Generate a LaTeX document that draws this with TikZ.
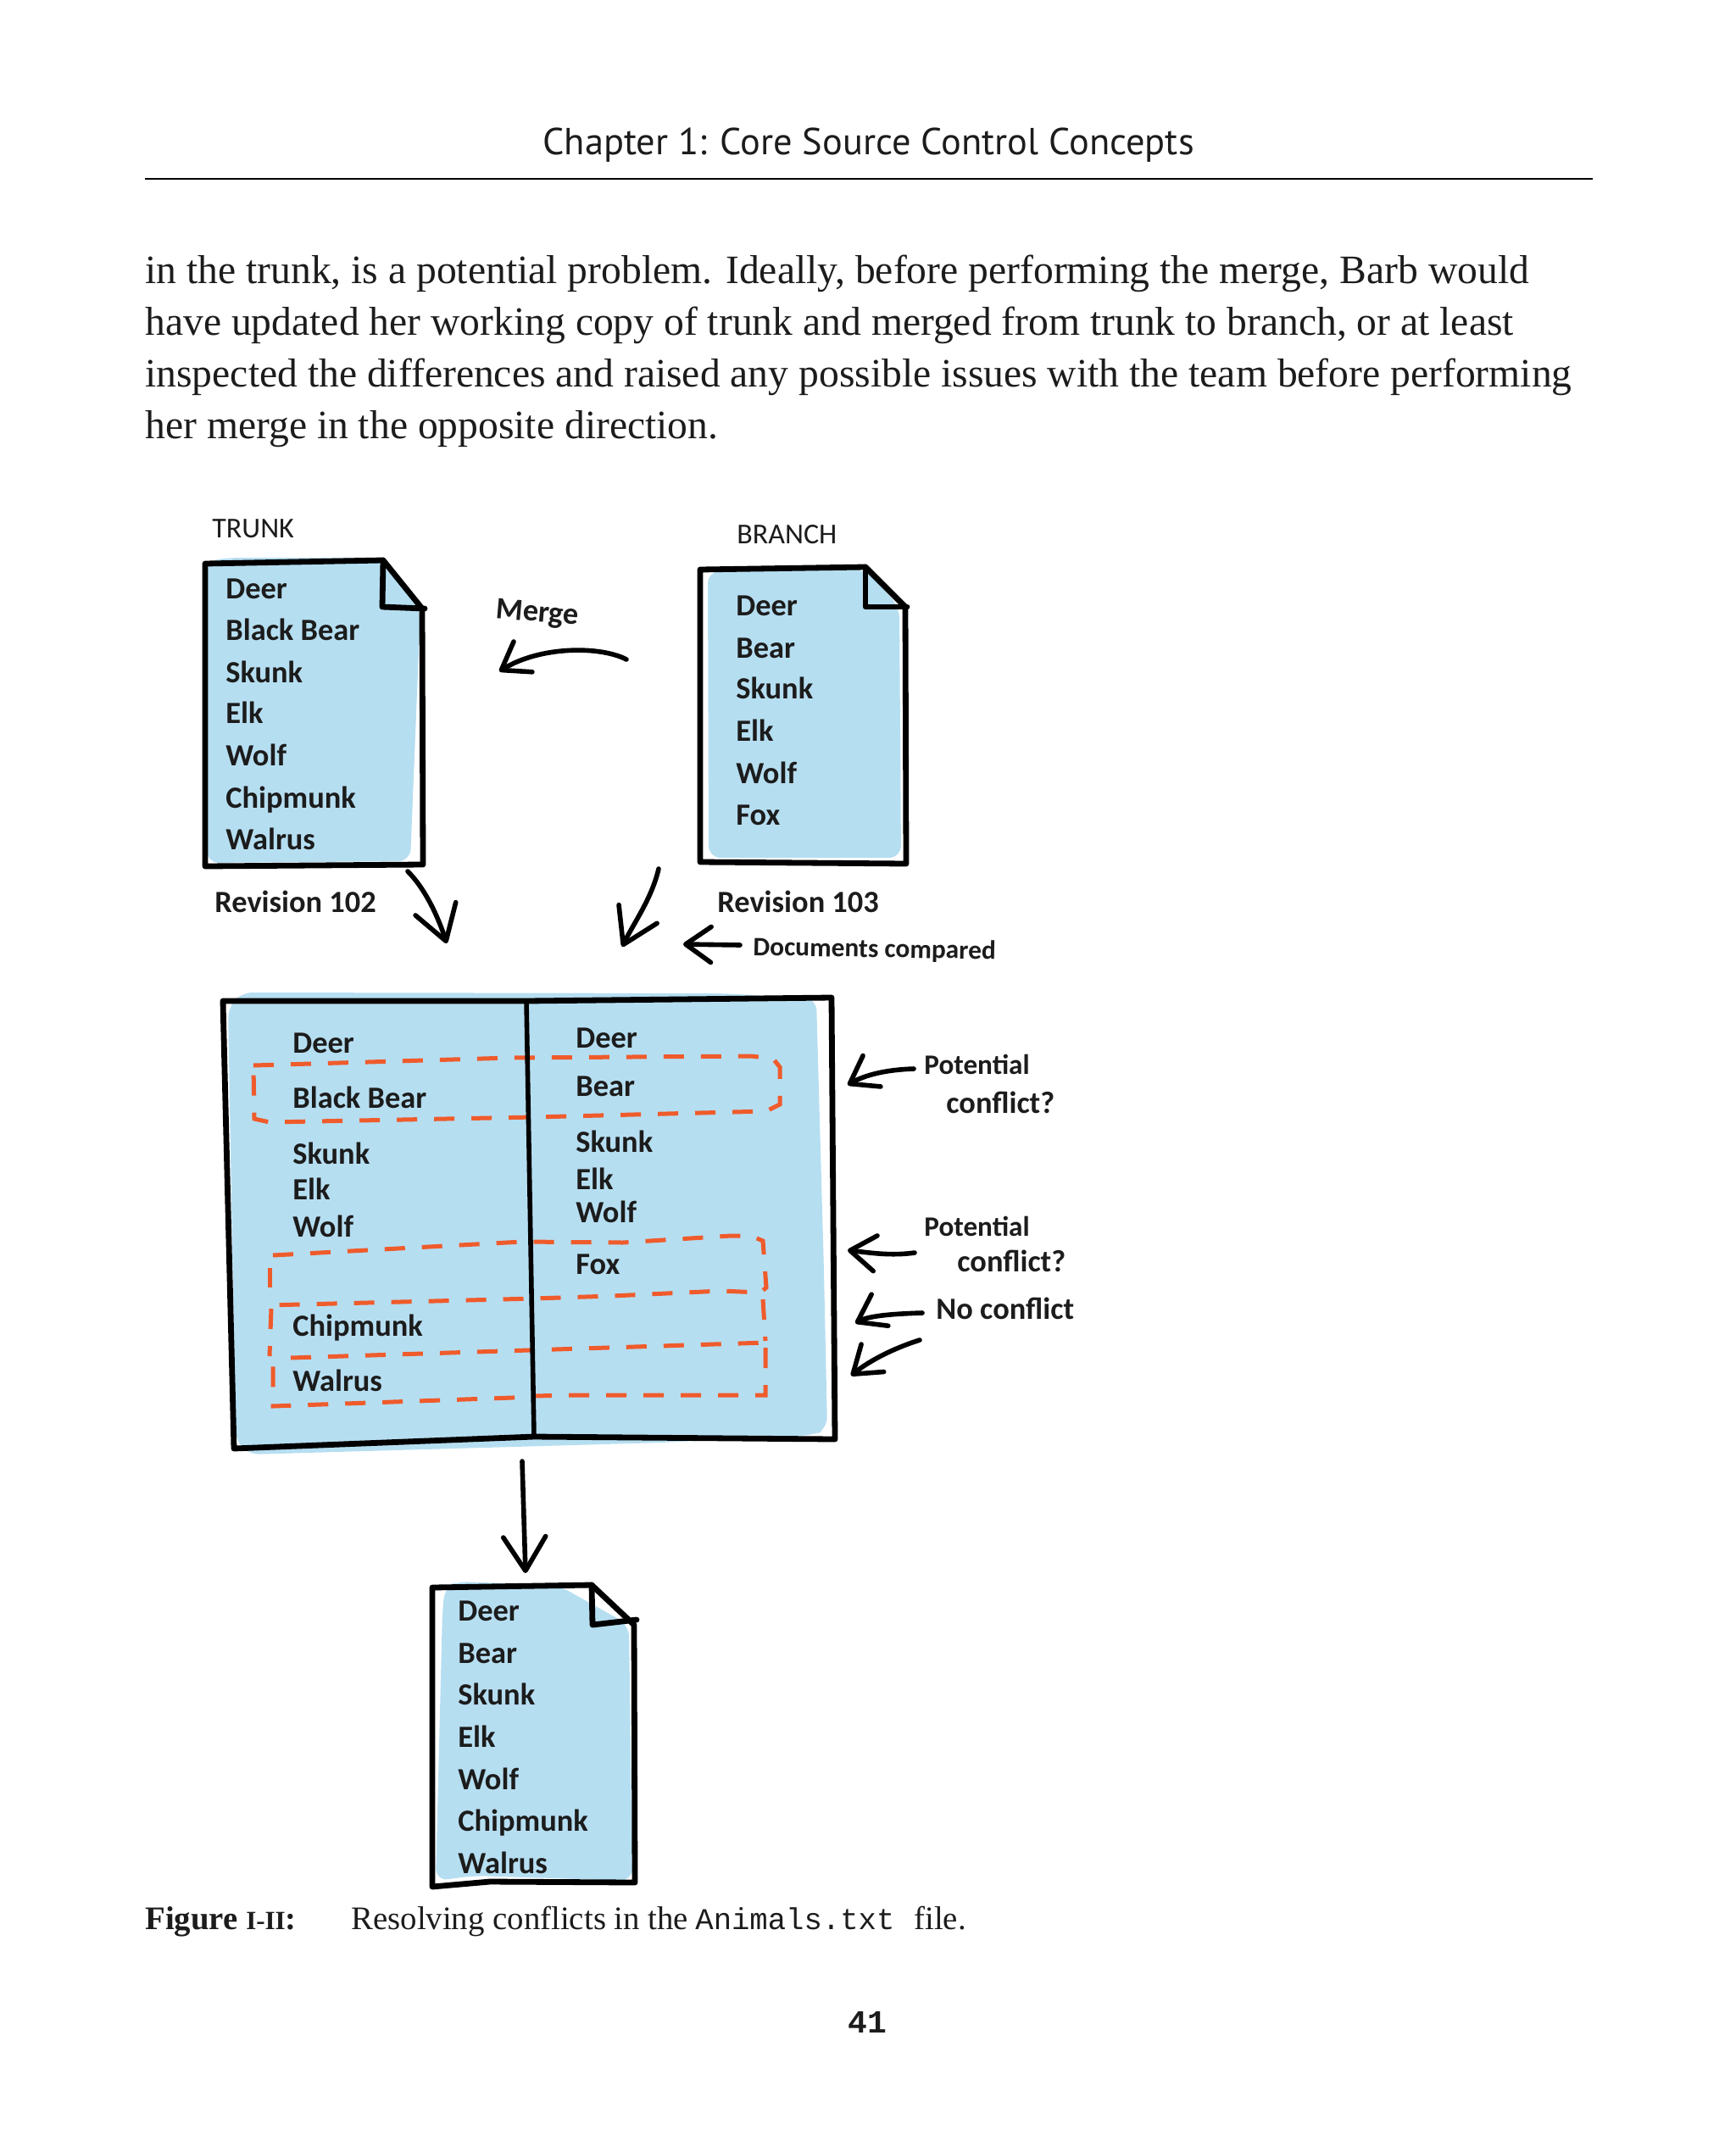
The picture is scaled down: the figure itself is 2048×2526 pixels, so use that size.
\documentclass[tikz,border=0pt]{standalone}
\usepackage{fontspec}
\setmainfont{Liberation Serif}
\setmonofont{Liberation Mono}
\newfontfamily\headfont{PT Sans}
\newfontfamily\handfont{Carlito}
\usetikzlibrary{arrows.meta}

\definecolor{sheetblue}{HTML}{B6DEF1}
\definecolor{markorange}{HTML}{EF5B2B}
\definecolor{inkblack}{HTML}{1C1C1C}

\begin{document}
\begin{tikzpicture}[x=.5pt,y=-.5pt,
    >={Straight Barb[length=15pt,width=21pt,round]},
    every node/.style = {inner sep=0pt,anchor=base west,text=inkblack},
    body/.style    = {font=\fontsize{23.8}{26}\selectfont},
    caption/.style = {font=\fontsize{19.4}{22}\selectfont},
    hand/.style    = {font=\handfont\bfseries\fontsize{18.2}{22}\selectfont},
    note/.style    = {font=\handfont\bfseries\fontsize{16.6}{20}\selectfont},
    notewide/.style = {font=\handfont\bfseries\fontsize{18.2}{20}\selectfont},
    tag/.style     = {font=\handfont\fontsize{17}{20}\selectfont},
    sheet/.style   = {fill=sheetblue,rounded corners=7pt},
    outline/.style = {draw=black,line width=3.4pt,line join=round,line cap=round},
    divider/.style = {draw=black,line width=2.8pt,line cap=round},
    arrow/.style   = {draw=black,line width=2.8pt,line cap=round,->},
    bighead/.style = {>={Straight Barb[length=20pt,width=25pt,round]}},
    conflict/.style = {draw=markorange,line width=2.5pt,
      dash pattern=on 12pt off 10pt},
  ]
  \useasboundingbox (0,0) rectangle (2048,2526);

  \node[font=\headfont\fontsize{22.2}{26}\selectfont] (header) at (640,182)
    {Chapter 1: Core Source Control Concepts};
  \draw[line width=1pt,black] (171,210.5) -- (1879,210.5);

  \node[body] (line1) at (171,334)
    {in the trunk, is a potential problem. Ideally, before performing the merge, Barb would};
  \node[body] (line2) at (171,395)
    {have updated her working copy of trunk and merged from trunk to branch, or at least};
  \node[body] (line3) at (171,456)
    {inspected the differences and raised any possible issues with the team before performing};
  \node[body] (line4) at (171,517)
    {her merge in the opposite direction.};

  % trunk sheet
  \fill[sheet] (244,662) -- (270,658) -- (444,658) -- (496,718) -- (484,1016) -- (244,1018) -- cycle;
  \draw[outline] (242,665) -- (452,661) -- (498,718) -- (499,1020) -- (242,1022) -- cycle;
  \draw[outline] (452,661) -- (451,716) -- (501,718);
  \node[tag] (trunk) at (250,634) {TRUNK};
  \foreach \row/\y/\animal in {1/706/Deer,2/755/Black Bear,3/805/Skunk,4/853/Elk,
      5/903/Wolf,6/953/Chipmunk,7/1002/Walrus}
    \node[hand] (trunk\row) at (266,\y) {\animal};
  \node[hand] (rev102) at (253,1076) {Revision 102};

  % branch sheet
  \fill[sheet] (835,674) -- (1021,672) -- (1061,716) -- (1063,1012) -- (836,1012) -- cycle;
  \draw[outline] (826,672) -- (1021,669) -- (1068,716) -- (1069,1019) -- (826,1017) -- cycle;
  \draw[outline] (1021,669) -- (1021,716) -- (1070,716);
  \node[tag] (branch) at (869,641) {BRANCH};
  \foreach \row/\y/\animal in {1/726/Deer,2/776/Bear,3/824/Skunk,4/874/Elk,
      5/924/Wolf,6/973/Fox}
    \node[hand] (branch\row) at (868,\y) {\animal};
  \node[hand] (rev103) at (846,1076) {Revision 103};

  \node[hand,rotate=-5] (merge) at (584,729) {Merge};
  \coordinate (mergefrom) at (739,778);
  \coordinate (mergeto) at (589,792);
  \draw[arrow] (mergefrom) .. controls (708,762) and (638,762) .. (mergeto);

  \coordinate (trunkfrom) at (481,1028);
  \coordinate (trunkto) at (527,1113);
  \draw[arrow,bighead] (trunkfrom) .. controls (503,1050) and (518,1085) .. (trunkto);
  \coordinate (branchfrom) at (777,1025);
  \coordinate (branchto) at (734,1117);
  \draw[arrow,bighead] (branchfrom) .. controls (769,1060) and (747,1090) .. (branchto);

  \node[rotate=-1,font=\handfont\bfseries\fontsize{15.7}{20}\selectfont] (compared) at (888,1127) {Documents compared};
  \coordinate (comparedto) at (806,1114);
  \draw[arrow] (873,1115) -- (comparedto);

  % compared sheets
  \fill[sheet] (269,1188) -- (284,1171) -- (850,1172) -- (963,1178) -- (972,1500) -- (976,1686)
    -- (961,1693) -- (780,1702) -- (292,1716) -- (278,1700) -- cycle;
  \draw[conflict] (299,1257) -- (602,1248) -- (886,1246) -- (912,1249) -- (920,1259)
    -- (920,1303) -- (904,1311) -- (630,1318) -- (318,1324) -- (300,1320) -- cycle;
  \draw[conflict] (322,1481) -- (616,1465) -- (735,1466) -- (862,1458) -- (886,1458)
    -- (900,1464) -- (904,1519) -- (897,1525) -- (851,1523) -- (721,1529) -- (630,1532) -- (315,1540);
  \draw[conflict] (318,1496) -- (318,1519);
  \draw[conflict] (320,1544) -- (318,1600);
  \draw[conflict] (900,1533) -- (903,1582);
  \draw[conflict] (343,1602) -- (904,1584);
  \draw[conflict] (903,1590) -- (903,1646) -- (671,1646) -- (630,1647) -- (605,1649)
    -- (322,1659) -- (322,1607);
  \draw[outline] (263,1181) -- (621,1181) -- (981,1177) -- (985,1698) -- (630,1695) -- (276,1709) -- cycle;
  \draw[divider] (621,1181) -- (630,1695);
  \foreach \row/\y/\animal in {1/1242/Deer,2/1307/Black Bear,3/1373/Skunk,4/1415/Elk,
      5/1459/Wolf,6/1576/Chipmunk,7/1641/Walrus}
    \node[hand] (left\row) at (345,\y) {\animal};
  \foreach \row/\y/\animal in {1/1236/Deer,2/1293/Bear,3/1359/Skunk,4/1403/Elk,
      5/1442/Wolf,6/1503/Fox}
    \node[hand] (right\row) at (679,\y) {\animal};

  \node[note] (potentialA) at (1090,1267) {Potential};
  \node[notewide] (conflictA) at (1116,1313) {conflict?};
  \coordinate (potentialAto) at (1000,1280);
  \draw[arrow] (1078,1261) .. controls (1046,1262) and (1021,1268) .. (potentialAto);
  \node[note] (potentialB) at (1090,1458) {Potential};
  \node[notewide] (conflictB) at (1129,1500) {conflict?};
  \coordinate (potentialBto) at (1000,1475);
  \draw[arrow] (1079,1478) .. controls (1051,1482) and (1026,1478) .. (potentialBto);
  \node[notewide] (noconflict) at (1104,1556) {No conflict};
  \coordinate (noconflictA) at (1009,1561);
  \coordinate (noconflictB) at (1004,1623);
  \draw[arrow] (1088,1549) .. controls (1056,1550) and (1026,1552) .. (noconflictA);
  \draw[arrow] (1085,1581) .. controls (1056,1590) and (1026,1605) .. (noconflictB);

  \coordinate (resultfrom) at (616,1724);
  \coordinate (resultto) at (620,1856);
  \draw[arrow,bighead] (resultfrom) -- (resultto);

  % result sheet
  \fill[sheet] (525,1872) -- (538,1866) -- (658,1870) -- (742,1917) -- (746,2219) -- (560,2213)
    -- (514,2219) -- (522,1900) -- cycle;
  \draw[outline] (510,1873) -- (698,1870) -- (748,1917) -- (749,2221) -- (578,2220) -- (510,2226) -- cycle;
  \draw[outline] (698,1870) -- (699,1917) -- (751,1911);
  \foreach \row/\y/\animal in {1/1912/Deer,2/1962/Bear,3/2011/Skunk,4/2061/Elk,
      5/2111/Wolf,6/2160/Chipmunk,7/2210/Walrus}
    \node[hand] (result\row) at (540,\y) {\animal};

  \node[font=\bfseries\fontsize{19.4}{22}\selectfont] (figure) at (171,2276)
    {Figure {\fontsize{15.5}{22}\selectfont I-II}:};
  \node[caption] (resolving) at (414,2276) {Resolving conflicts in the};
  \node[font=\ttfamily\fontsize{17.8}{22}\selectfont] (filename) at (820,2276) {Animals.txt};
  \node[caption] (file) at (1078,2276) {file.};
  \node[font=\ttfamily\bfseries\fontsize{19}{22}\selectfont] (page) at (1000,2398) {41};
\end{tikzpicture}
\end{document}
